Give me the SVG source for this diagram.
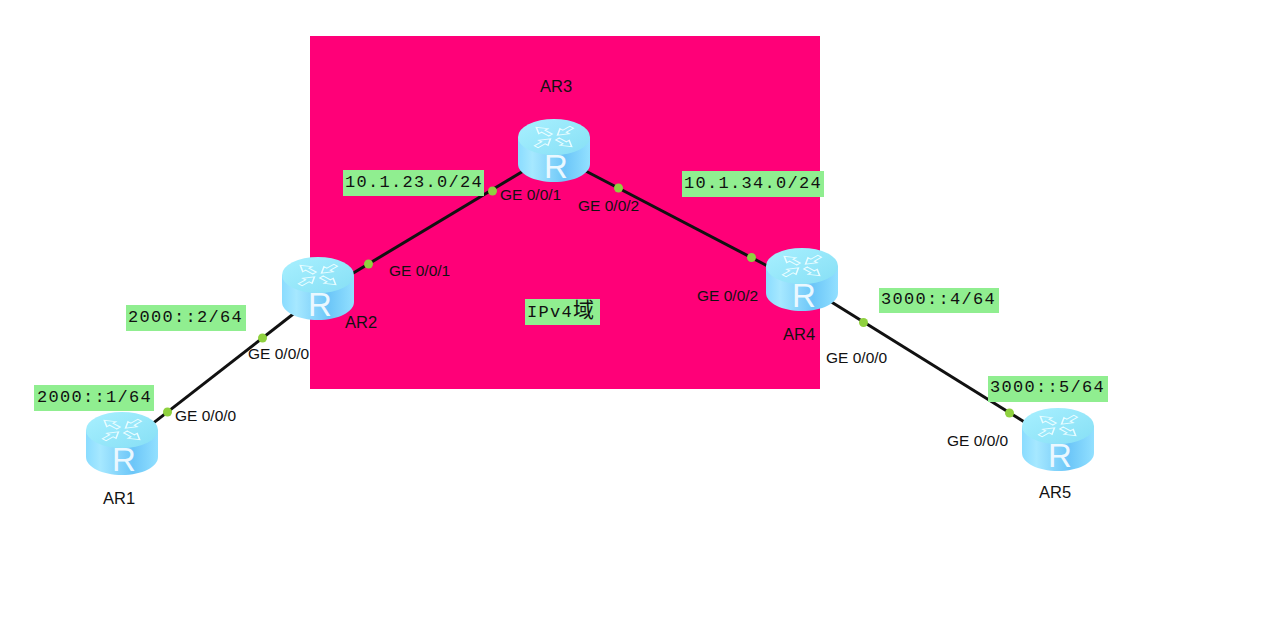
<svg xmlns="http://www.w3.org/2000/svg" width="1288" height="619" viewBox="0 0 1288 619">
<style>
.lbl{font-family:"Liberation Sans",Arial,sans-serif;font-size:16.5px;fill:#111}
.ge{font-family:"Liberation Sans",Arial,sans-serif;font-size:15.5px;fill:#111}
.ip{font-family:"Liberation Mono","Noto Sans CJK SC",monospace;font-size:17px;letter-spacing:1.3px;fill:#111}
.box{fill:#90ee90}
.link{stroke:#111;stroke-width:3;fill:none}
.dot{fill:#8fd13f}
.sym{fill:none;stroke:#e8fcff;stroke-width:1.6}
</style>
<defs>
<linearGradient id="side" x1="0" x2="1" y1="0" y2="0">
<stop offset="0" stop-color="#8adcff"/><stop offset=".2" stop-color="#a6e8ff"/><stop offset=".65" stop-color="#6cc6f8"/><stop offset="1" stop-color="#92e0ff"/>
</linearGradient>
<linearGradient id="top" x1="0" x2="1" y1="0" y2="1">
<stop offset="0" stop-color="#a8f0ff"/><stop offset="1" stop-color="#86dff5"/>
</linearGradient>
<path id="arr" d="M5 -2.500H15V-6.500L25 0L15 6.500V2.500H5Z"/>
<symbol id="router" width="72" height="63" viewBox="0 0 72 63">
<path d="M0 18V45C0 55 16 63 36 63S72 55 72 45V18Z" fill="url(#side)"/>
<ellipse cx="36" cy="18" rx="36" ry="18" fill="url(#top)"/>
<g class="sym" transform="translate(36 18) scale(1 .55)">
<use href="#arr" transform="rotate(-135)"/>
<use href="#arr" transform="rotate(45)"/>
<use href="#arr" transform="rotate(-45) translate(30 0) scale(-1 1)"/>
<use href="#arr" transform="rotate(135) translate(30 0) scale(-1 1)"/>
</g>
<text x="38" y="59" text-anchor="middle" font-family="Liberation Sans,Arial,sans-serif" font-size="33" fill="#eaf8ff">R</text>
</symbol>
</defs>
<rect width="1288" height="619" fill="#fff"/>
<rect x="310" y="36" width="510" height="353" fill="#ff0078"/>
<g id="connectors">
<path class="link" d="M140 433.400L300 308.800"/>
<path class="link" d="M340 281L530 167"/>
<path class="link" d="M578 167L780 272.500"/>
<path class="link" d="M825 298L1030 425.500"/>
<circle class="dot" cx="167.500" cy="412" r="4.500"/>
<circle class="dot" cx="262.500" cy="338" r="4.500"/>
<circle class="dot" cx="368.500" cy="264" r="4.500"/>
<circle class="dot" cx="492.500" cy="191" r="4.500"/>
<circle class="dot" cx="618.500" cy="188" r="4.500"/>
<circle class="dot" cx="751.500" cy="257.500" r="4.500"/>
<circle class="dot" cx="863.500" cy="322.500" r="4.500"/>
<circle class="dot" cx="1009.500" cy="413" r="4.500"/>
</g>
<g id="AR1"><use href="#router" x="86" y="412"/><text class="lbl" x="103" y="504">AR1</text></g>
<g id="AR2"><use href="#router" x="282" y="257"/><text class="lbl" x="345" y="328">AR2</text></g>
<g id="AR3"><use href="#router" x="518" y="119"/><text class="lbl" x="540" y="92">AR3</text></g>
<g id="AR4"><use href="#router" x="766" y="248"/><text class="lbl" x="783" y="340">AR4</text></g>
<g id="AR5"><use href="#router" x="1022" y="408"/><text class="lbl" x="1039" y="498">AR5</text></g>
<g id="port-labels">
<text class="ge" x="175" y="421">GE 0/0/0</text>
<text class="ge" x="248" y="359">GE 0/0/0</text>
<text class="ge" x="389" y="276">GE 0/0/1</text>
<text class="ge" x="500" y="200">GE 0/0/1</text>
<text class="ge" x="578" y="211">GE 0/0/2</text>
<text class="ge" x="697" y="301">GE 0/0/2</text>
<text class="ge" x="826" y="363">GE 0/0/0</text>
<text class="ge" x="947" y="446">GE 0/0/0</text>
</g>
<g id="net-10-1-23"><rect class="box" x="343" y="170" width="141" height="26"/><text class="ip" x="345" y="187">10.1.23.0/24</text></g>
<g id="net-10-1-34"><rect class="box" x="682" y="171" width="142" height="26"/><text class="ip" x="684" y="188">10.1.34.0/24</text></g>
<g id="net-2000-2"><rect class="box" x="126" y="305" width="120" height="26"/><text class="ip" x="128" y="322">2000::2/64</text></g>
<g id="net-2000-1"><rect class="box" x="34" y="385" width="120" height="26"/><text class="ip" x="37" y="402">2000::1/64</text></g>
<g id="net-3000-4"><rect class="box" x="879" y="288" width="120" height="25"/><text class="ip" x="881" y="304">3000::4/64</text></g>
<g id="net-3000-5"><rect class="box" x="988" y="376" width="120" height="26"/><text class="ip" x="990" y="392">3000::5/64</text></g>
<g id="ipv4"><rect class="box" x="525" y="299" width="75" height="26"/><text class="ip" x="527" y="317">IPv4<tspan font-size="21" letter-spacing="0">域</tspan></text></g>
</svg>
